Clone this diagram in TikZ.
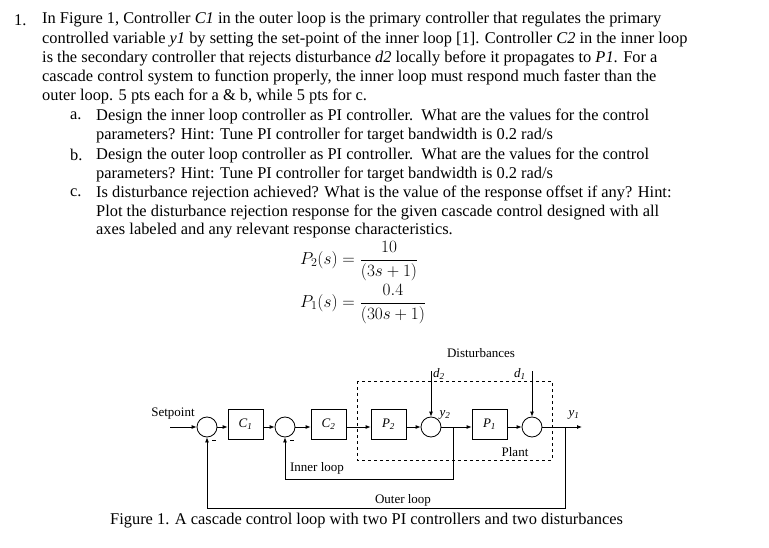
\documentclass[tikz,border=0pt]{standalone}
\usepackage{amsmath}
\usepackage{fontspec}
\setmainfont{Liberation Serif}
\usetikzlibrary{arrows.meta}
\begin{document}
\begin{tikzpicture}[x=1pt,y=-1pt,
  txt/.style={anchor=west,inner sep=0pt,font=\fontsize{16.4}{18}\selectfont},
  blk/.style={draw,thick,minimum width=35pt,minimum height=30pt,inner sep=0pt,font=\fontsize{13}{14}\selectfont\itshape},
  sumc/.style={draw,thick,circle,minimum size=20pt,inner sep=0pt},
  sig/.style={thick,-{Latex[length=5pt,width=4pt]}},
  lbl/.style={inner sep=0pt,font=\fontsize{13}{14}\selectfont}]
\useasboundingbox (0,0) rectangle (769,548);
\node[txt] (n1) at (14,20) {1.};
\node[txt] (l1) at (42,20) {In Figure 1, Controller \textit{C1} in the outer loop is the primary controller that regulates the primary};
\node[txt] (l2) at (42,39) {controlled variable \textit{y1} by setting the set-point of the inner loop [1]. Controller \textit{C2} in the inner loop};
\node[txt] (l3) at (42,58) {is the secondary controller that rejects disturbance \textit{d2} locally before it propagates to \textit{P1}. For a};
\node[txt] (l4) at (42,77) {cascade control system to function properly, the inner loop must respond much faster than the};
\node[txt] (l5) at (42,96) {outer loop. 5 pts each for a \& b, while 5 pts for c.};
\node[txt] (a) at (70,116) {a.};
\node[txt] (a1) at (96,116) {Design the inner loop controller as PI controller.\ \ What are the values for the control};
\node[txt] (a2) at (96,135) {parameters? Hint: Tune PI controller for target bandwidth is 0.2 rad/s};
\node[txt] (b) at (70,155) {b.};
\node[txt] (b1) at (96,155) {Design the outer loop controller as PI controller.\ \ What are the values for the control};
\node[txt] (b2) at (96,174) {parameters? Hint: Tune PI controller for target bandwidth is 0.2 rad/s};
\node[txt] (c) at (70,193) {c.};
\node[txt] (c1) at (96,193) {Is disturbance rejection achieved? What is the value of the response offset if any? Hint:};
\node[txt] (c2) at (96,212) {Plot the disturbance rejection response for the given cascade control designed with all};
\node[txt] (c3) at (96,231) {axes labeled and any relevant response characteristics.};
\node[txt,font=\fontsize{17.5}{19}\selectfont] (e1) at (300,261) {$P_2(s)=\dfrac{10}{(3s+1)}$};
\node[txt,font=\fontsize{17.5}{19}\selectfont] (e2) at (300,304) {$P_1(s)=\dfrac{0.4}{(30s+1)}$};
% diagram
\node[sumc] (s1) at (207,427) {};
\node[blk] (C1) at (245.5,424.5) {C\textsubscript{\itshape 1}};
\node[sumc] (s2) at (285,427) {};
\node[blk] (C2) at (328.5,424.5) {C\textsubscript{\itshape 2}};
\node[blk] (P2) at (388.5,424.5) {P\textsubscript{\itshape 2}};
\node[sumc] (s3) at (431,427) {};
\node[blk] (P1) at (489.5,424.5) {P\textsubscript{\itshape 1}};
\node[sumc] (s4) at (532,427) {};
\draw[thick,dashed] (357,381) rectangle (552,460);
\coordinate (sp) at (170,427);
\coordinate (br2) at (453,427);
\coordinate (br1) at (565,427);
\coordinate (out) at (582,427);
\coordinate (d2) at (431,371);
\coordinate (d1) at (532,371);
\draw[sig] (sp) -- (s1);
\draw[sig] (s1) -- (C1.west |- s1);
\draw[sig] (C1.east |- s2) -- (s2);
\draw[sig] (s2) -- (C2.west |- s2);
\draw[sig] (C2.east |- s3) -- (P2.west |- s3);
\draw[sig] (P2.east |- s3) -- (s3);
\draw[sig] (s3) -- (P1.west |- s3);
\draw[sig] (P1.east |- s4) -- (s4);
\draw[sig] (s4) -- (out);
\draw[sig] (d2) -- (s3);
\draw[sig] (d1) -- (s4);
\draw[sig] (br2) -- (453,479) -| (s2);
\draw[sig] (br1) -- (565,508) -| (s1);
\draw[thick] (212,440) -- (216,440);
\draw[thick] (290,440) -- (294,440);
\node[lbl] (spl) at (173,414) {Setpoint};
\node[lbl] (dl) at (481,353) {Disturbances};
\node[lbl,anchor=west] (d2l) at (433,374) {\itshape d\textsubscript{2}};
\node[lbl,anchor=west] (d1l) at (514,374) {\itshape d\textsubscript{1}};
\node[lbl] (y2l) at (445,415) {\itshape y\textsubscript{2}};
\node[lbl] (y1l) at (574,415) {\itshape y\textsubscript{1}};
\node[lbl] (pl) at (515,452) {Plant};
\node[lbl] (il) at (317,468) {Inner loop};
\node[lbl] (ol) at (403,500) {Outer loop};
\node[txt] (cap) at (110,521) {Figure 1. A cascade control loop with two PI controllers and two disturbances};
\end{tikzpicture}
\end{document}
